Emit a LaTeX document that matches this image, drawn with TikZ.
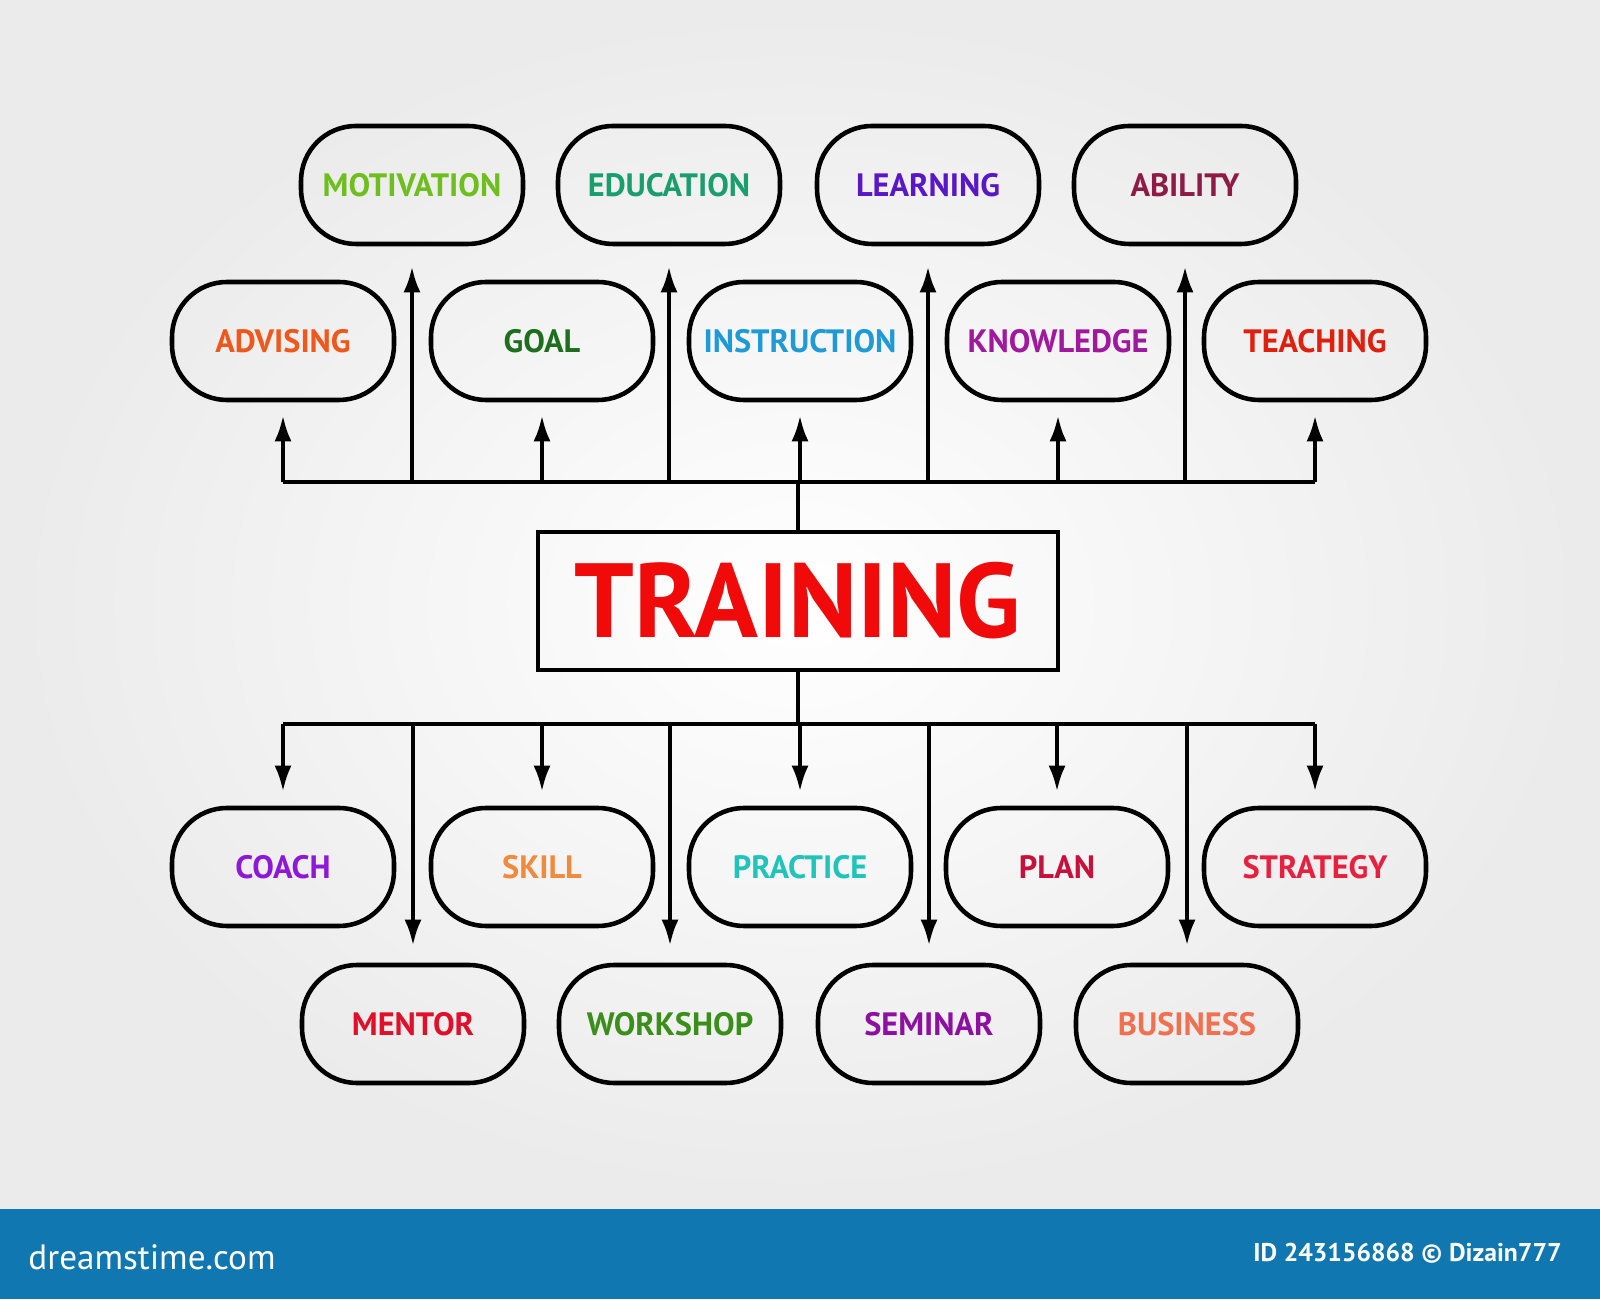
\documentclass[tikz,border=0pt]{standalone}
\usepackage{fontspec}
\setmainfont{PT Sans}
\usetikzlibrary{arrows.meta}
\definecolor{cMot}{RGB}{110,190,30}
\definecolor{cEdu}{RGB}{26,158,110}
\definecolor{cLea}{RGB}{90,23,200}
\definecolor{cAbi}{RGB}{142,26,69}
\definecolor{cAdv}{RGB}{240,87,26}
\definecolor{cGoal}{RGB}{29,110,29}
\definecolor{cIns}{RGB}{30,154,214}
\definecolor{cKno}{RGB}{160,24,158}
\definecolor{cTea}{RGB}{224,32,14}
\definecolor{cCoa}{RGB}{142,24,216}
\definecolor{cSki}{RGB}{240,138,60}
\definecolor{cPra}{RGB}{32,196,184}
\definecolor{cPla}{RGB}{200,16,60}
\definecolor{cStr}{RGB}{232,32,63}
\definecolor{cMen}{RGB}{224,16,42}
\definecolor{cWor}{RGB}{58,142,26}
\definecolor{cSem}{RGB}{142,16,160}
\definecolor{cBsn}{RGB}{240,112,80}
\definecolor{cTrain}{RGB}{240,10,10}
\definecolor{bannerblue}{RGB}{17,119,176}

\begin{document}
\begin{tikzpicture}[
    box/.style={draw, line width=1.3pt, rounded corners=0.55cm, minimum width=2.22cm,
      minimum height=1.18cm, inner sep=0pt, font=\bfseries\fontsize{9.2}{11}\selectfont},
    link/.style={line width=1.2pt, -{Latex[length=0.26cm,width=0.17cm]}},
    bar/.style={line width=1.2pt}]
    \useasboundingbox (0,0) rectangle (16,12.99);
    \shade[inner color=white, outer color=black!8] (0,0.9) rectangle (16,12.99);
    \fill[bannerblue] (0,0) rectangle (16,0.9);
    \node[box, text=cMot] (mot) at (4.12,11.14) {MOTIVATION};
    \node[box, text=cEdu] (edu) at (6.69,11.14) {EDUCATION};
    \node[box, text=cLea] (lea) at (9.28,11.14) {LEARNING};
    \node[box, text=cAbi] (abi) at (11.85,11.14) {ABILITY};
    \node[box, text=cAdv] (adv) at (2.83,9.58) {ADVISING};
    \node[box, text=cGoal] (goal) at (5.42,9.58) {GOAL};
    \node[box, text=cIns] (ins) at (8.00,9.58) {INSTRUCTION};
    \node[box, text=cKno] (kno) at (10.58,9.58) {KNOWLEDGE};
    \node[box, text=cTea] (tea) at (13.15,9.58) {TEACHING};
    \node[draw, line width=1.3pt, minimum width=5.2cm, minimum height=1.38cm, text=cTrain,
      font=\bfseries\fontsize{30}{36}\selectfont] (train) at (7.98,6.98) {TRAINING};
    \node[box, text=cCoa] (coa) at (2.83,4.32) {COACH};
    \node[box, text=cSki] (ski) at (5.42,4.32) {SKILL};
    \node[box, text=cPra] (pra) at (8.00,4.32) {PRACTICE};
    \node[box, text=cPla] (pla) at (10.57,4.32) {PLAN};
    \node[box, text=cStr] (str) at (13.15,4.32) {STRATEGY};
    \node[box, text=cMen] (men) at (4.13,2.75) {MENTOR};
    \node[box, text=cWor] (wor) at (6.70,2.75) {WORKSHOP};
    \node[box, text=cSem] (sem) at (9.29,2.75) {SEMINAR};
    \node[box, text=cBsn] (bsn) at (11.87,2.75) {BUSINESS};
    \coordinate (topbar) at (8,8.17);
    \coordinate (lowbar) at (8,5.75);
    \draw[bar] (train.north) -- (train.north |- topbar);
    \draw[bar] (adv.south |- topbar) -- (tea.south |- topbar);
    \foreach \n in {adv,goal,ins,kno,tea}
      \draw[link, shorten >=0.13cm] (\n.south |- topbar) -- (\n.south);
    \foreach \n in {mot,edu,lea,abi}
      \draw[link, shorten >=0.2cm] (\n.south |- topbar) -- (\n.south);
    \draw[bar] (train.south) -- (train.south |- lowbar);
    \draw[bar] (coa.north |- lowbar) -- (str.north |- lowbar);
    \foreach \n in {coa,ski,pra,pla,str}
      \draw[link, shorten >=0.14cm] (\n.north |- lowbar) -- (\n.north);
    \foreach \n in {men,wor,sem,bsn}
      \draw[link, shorten >=0.17cm] (\n.north |- lowbar) -- (\n.north);
    \node[text=white, anchor=west, font=\fontsize{10}{12}\selectfont] (site) at (0.16,0.42) {dreamstime.com};
    \node[text=white, anchor=east, font=\bfseries\fontsize{7.3}{9}\selectfont] (credit) at (15.74,0.46) {ID 243156868 © Dizain777};
\end{tikzpicture}
\end{document}
